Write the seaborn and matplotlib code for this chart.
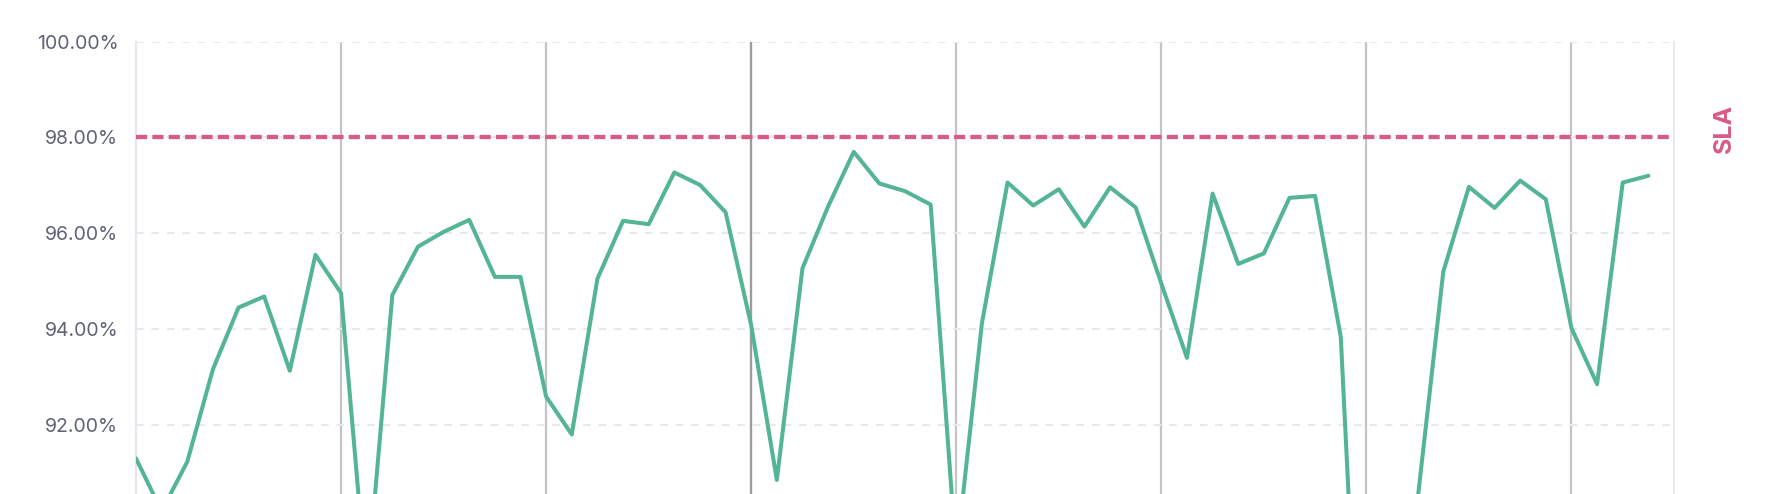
import numpy as np
import pandas as pd
import seaborn as sns
import matplotlib.pyplot as plt

# availability per time slot (%)
availability = [
    91.30, 90.20, 91.23, 93.16, 94.45, 94.68, 93.13, 95.55, 94.75, 88.55,
    94.71, 95.72, 96.03, 96.28, 95.09, 95.09, 92.59, 91.80, 95.05, 96.26,
    96.19, 97.27, 97.01, 96.44, 94.08, 90.85, 95.27, 96.56, 97.70, 97.04,
    96.88, 96.60, 89.25, 94.12, 97.06, 96.58, 96.92, 96.14, 96.96, 96.54,
    94.95, 93.40, 96.83, 95.36, 95.58, 96.74, 96.78, 93.84, 83.00, 86.00,
    90.45, 95.20, 96.97, 96.53, 97.10, 96.71, 94.02, 92.85, 97.06, 97.20,
]
sla_target = 98.0
sla_label = "SLA"
y_ticks = [92, 94, 96, 98, 100]
period_starts = [8, 16, 24, 32, 40, 48, 56]
highlight_period = 24
n_slots = 60

line_color = "#53b496"
sla_color = "#d65c86"
label_color = "#5f6375"

df = pd.DataFrame({"slot": np.arange(len(availability)), "availability": availability})

sns.set_style("white")
plt.rcParams["font.family"] = ["Inter", "DejaVu Sans"]

fig = plt.figure(figsize=(17.78, 4.94), dpi=100)
ax = fig.add_axes([136 / 1778, 0.0, (1674 - 136) / 1778, 1 - 41.7 / 494])

# vertical period separators
ax.set_xticks(period_starts)
ax.xaxis.grid(True, color="#c4c4c4", linewidth=1.6)
ax.axvline(highlight_period, color="#9c9c9c", linewidth=1.6, zorder=1)

# dashed horizontal grid
ax.set_yticks(y_ticks)
ax.yaxis.grid(True, color="#e8e8ef", linewidth=1.5, linestyle=(0, (3.7, 3.7)))
ax.set_axisbelow(True)

sns.lineplot(data=df, x="slot", y="availability", ax=ax, color=line_color,
             linewidth=2.9, zorder=3)

ax.axhline(sla_target, color=sla_color, linewidth=3.1,
           linestyle=(0, (2.6, 1.2)), zorder=4)
ax.text(1.0325, sla_target + 0.18, sla_label, transform=ax.get_yaxis_transform(),
        rotation=90, ha="center", va="center", fontsize=18, fontweight="bold",
        color=sla_color)

ax.set_xlim(0, n_slots)
ax.set_ylim(90.557, 100)
ax.set_xlabel("")
ax.set_ylabel("")
ax.set_xticklabels([])
ax.yaxis.set_major_formatter(plt.FuncFormatter(lambda v, _: f"{v:.2f}%"))
ax.tick_params(axis="y", length=0, pad=12.8, labelsize=14.0, labelcolor=label_color)
ax.tick_params(axis="x", length=0)

for side in ["top", "bottom"]:
    ax.spines[side].set_visible(False)
ax.spines["left"].set_color("#e6e6ee")
ax.spines["left"].set_linewidth(1.5)
ax.spines["right"].set_color("#e8e8e8")
ax.spines["right"].set_linewidth(1.2)

fig.savefig("out.png", dpi=100)
